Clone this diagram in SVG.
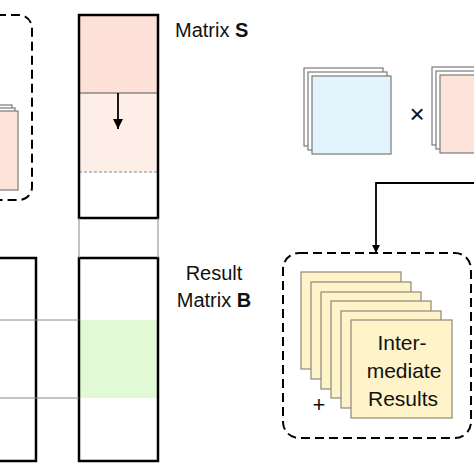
<svg xmlns="http://www.w3.org/2000/svg" width="474" height="474" viewBox="0 0 474 474">
<defs>
<marker id="ah" viewBox="0 0 10 10" refX="10" refY="5" markerWidth="8" markerHeight="8" markerUnits="userSpaceOnUse" orient="auto"><path d="M0,0 L10,5 L0,10 z" fill="#000"/></marker>
<marker id="ah2" viewBox="0 0 10 10" refX="10" refY="5" markerWidth="10" markerHeight="10" markerUnits="userSpaceOnUse" orient="auto"><path d="M0,0 L10,5 L0,10 z" fill="#000"/></marker>
<style>
.thick{fill:none;stroke:#000;stroke-width:2.5}
.thin{fill:none;stroke:#888;stroke-width:1}
.dash{fill:none;stroke:#000;stroke-width:2;stroke-dasharray:9,5}
.layer{stroke:#7a7a7a;stroke-width:1.2}
.yl{fill:#fff3c9;stroke:#8a8a7a;stroke-width:1.2}
.lbl{font-family:"Liberation Sans",Arial,sans-serif;font-size:20px;fill:#111}
.big{font-family:"Liberation Sans",Arial,sans-serif;font-size:21px;fill:#111}
</style>
</defs>
<rect width="474" height="474" fill="#fff"/>

<g id="left-group">
<rect x="-30" y="15" width="62" height="185" rx="13" class="dash"/>
<rect x="-60" y="105" width="72" height="79" fill="#fff" class="layer"/>
<rect x="-57" y="108" width="72" height="79" fill="#fff" class="layer"/>
<rect x="-54" y="111" width="72" height="79" fill="#fde3da" class="layer"/>
</g>

<g id="left-lower-matrix">
<rect x="-10" y="258" width="46" height="203" class="thick"/>
</g>

<g id="matrix-S">
<rect x="79" y="15" width="79" height="78" fill="#fde1d8"/>
<rect x="79" y="93" width="79" height="79" fill="#fdeee8"/>
<line x1="79" y1="93" x2="158" y2="93" stroke="#555" stroke-width="1"/>
<line x1="79" y1="172" x2="158" y2="172" stroke="#888" stroke-width="1" stroke-dasharray="3,2"/>
<rect x="79" y="15" width="79" height="203" class="thick"/>
<text x="175" y="37" class="lbl">Matrix <tspan font-weight="bold">S</tspan></text>
</g>

<g id="matrix-B">
<rect x="79" y="320" width="79" height="78" fill="#e2f9d5"/>
<rect x="79" y="258" width="79" height="203" class="thick"/>
<text x="214" y="280" text-anchor="middle" class="lbl">Result</text>
<text x="214" y="307" text-anchor="middle" class="lbl">Matrix <tspan font-weight="bold">B</tspan></text>
</g>

<g id="blue-stack">
<rect x="304" y="68" width="79" height="78" fill="#fff" class="layer"/>
<rect x="308" y="72" width="79" height="78" fill="#fff" class="layer"/>
<rect x="312" y="76" width="79" height="78" fill="#e3f5fc" class="layer"/>
</g>

<g id="times">
<text x="417" y="123" text-anchor="middle" font-family="Liberation Sans,Arial,sans-serif" font-size="26" fill="#111">×</text>
</g>

<g id="pink-stack">
<rect x="432" y="67" width="79" height="78" fill="#fff" class="layer"/>
<rect x="436" y="71" width="79" height="78" fill="#fff" class="layer"/>
<rect x="440" y="75" width="79" height="78" fill="#fde3da" class="layer"/>
</g>

<g id="intermediate">
<rect x="283" y="253" width="188" height="185" rx="16" class="dash"/>
<rect x="301" y="272" width="100" height="97" class="yl"/>
<rect x="311" y="282" width="100" height="97" class="yl"/>
<rect x="321" y="292" width="100" height="97" class="yl"/>
<rect x="331" y="301" width="100" height="97" class="yl"/>
<rect x="341" y="311" width="100" height="97" class="yl"/>
<rect x="351" y="320" width="101" height="98" class="yl"/>
<text x="402" y="350" text-anchor="middle" class="big">Inter-</text>
<text x="404" y="378" text-anchor="middle" class="big">mediate</text>
<text x="403" y="406" text-anchor="middle" class="big">Results</text>
<text x="319" y="412" text-anchor="middle" font-family="Liberation Sans,Arial,sans-serif" font-size="22" fill="#111">+</text>
</g>

<g id="connectors">
<line x1="79" y1="218" x2="79" y2="258" class="thin"/>
<line x1="158" y1="218" x2="158" y2="258" class="thin"/>
<line x1="0" y1="320" x2="79" y2="320" class="thin"/>
<line x1="0" y1="398" x2="79" y2="398" class="thin"/>
<line x1="118" y1="93" x2="118" y2="129" stroke="#000" stroke-width="1.8" marker-end="url(#ah2)"/>
<path d="M474,183 H376 V253" fill="none" stroke="#000" stroke-width="1.8" marker-end="url(#ah)"/>
</g>
</svg>
